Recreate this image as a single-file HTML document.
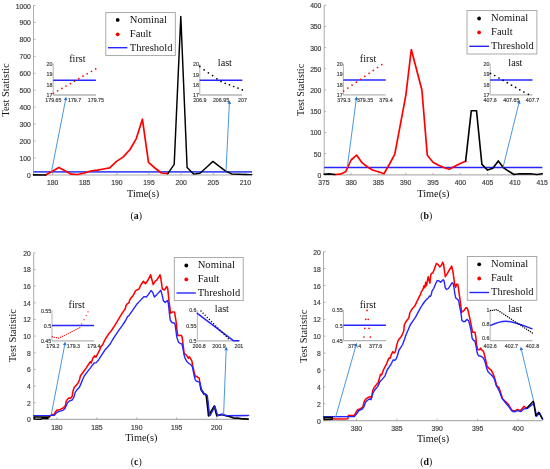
<!DOCTYPE html>
<html><head><meta charset="utf-8"><title>Test Statistic figure</title>
<style>html,body{margin:0;padding:0;background:#fff;width:550px;height:469px;overflow:hidden}svg{display:block}</style>
</head><body>
<svg width="550" height="469" viewBox="0 0 550 469">
<style>.sf{font-family:'Liberation Serif','Times New Roman',serif;}.ss{font-family:'Liberation Sans',Arial,sans-serif;stroke:#3a3a3a;stroke-width:0.16px}</style>
<rect width="550" height="469" fill="#fff"/>
<line x1="33.5" y1="5.5" x2="33.5" y2="175" stroke="#a2a2a2" stroke-width="0.9" />
<line x1="33.5" y1="175" x2="252" y2="175" stroke="#b0b0b0" stroke-width="1.2" />
<line x1="33.5" y1="175" x2="35.5" y2="175" stroke="#a2a2a2" stroke-width="0.8" />
<text class="ss" x="30.6" y="178" font-size="6.8" text-anchor="end" fill="#3c3c3c" letter-spacing="-0.1">0</text>
<line x1="33.5" y1="158.05" x2="35.5" y2="158.05" stroke="#a2a2a2" stroke-width="0.8" />
<text class="ss" x="30.6" y="161.05" font-size="6.8" text-anchor="end" fill="#3c3c3c" letter-spacing="-0.1">100</text>
<line x1="33.5" y1="141.1" x2="35.5" y2="141.1" stroke="#a2a2a2" stroke-width="0.8" />
<text class="ss" x="30.6" y="144.1" font-size="6.8" text-anchor="end" fill="#3c3c3c" letter-spacing="-0.1">200</text>
<line x1="33.5" y1="124.15" x2="35.5" y2="124.15" stroke="#a2a2a2" stroke-width="0.8" />
<text class="ss" x="30.6" y="127.15" font-size="6.8" text-anchor="end" fill="#3c3c3c" letter-spacing="-0.1">300</text>
<line x1="33.5" y1="107.2" x2="35.5" y2="107.2" stroke="#a2a2a2" stroke-width="0.8" />
<text class="ss" x="30.6" y="110.2" font-size="6.8" text-anchor="end" fill="#3c3c3c" letter-spacing="-0.1">400</text>
<line x1="33.5" y1="90.25" x2="35.5" y2="90.25" stroke="#a2a2a2" stroke-width="0.8" />
<text class="ss" x="30.6" y="93.25" font-size="6.8" text-anchor="end" fill="#3c3c3c" letter-spacing="-0.1">500</text>
<line x1="33.5" y1="73.3" x2="35.5" y2="73.3" stroke="#a2a2a2" stroke-width="0.8" />
<text class="ss" x="30.6" y="76.3" font-size="6.8" text-anchor="end" fill="#3c3c3c" letter-spacing="-0.1">600</text>
<line x1="33.5" y1="56.35" x2="35.5" y2="56.35" stroke="#a2a2a2" stroke-width="0.8" />
<text class="ss" x="30.6" y="59.35" font-size="6.8" text-anchor="end" fill="#3c3c3c" letter-spacing="-0.1">700</text>
<line x1="33.5" y1="39.4" x2="35.5" y2="39.4" stroke="#a2a2a2" stroke-width="0.8" />
<text class="ss" x="30.6" y="42.4" font-size="6.8" text-anchor="end" fill="#3c3c3c" letter-spacing="-0.1">800</text>
<line x1="33.5" y1="22.45" x2="35.5" y2="22.45" stroke="#a2a2a2" stroke-width="0.8" />
<text class="ss" x="30.6" y="25.45" font-size="6.8" text-anchor="end" fill="#3c3c3c" letter-spacing="-0.1">900</text>
<line x1="33.5" y1="5.5" x2="35.5" y2="5.5" stroke="#a2a2a2" stroke-width="0.8" />
<text class="ss" x="30.6" y="8.5" font-size="6.8" text-anchor="end" fill="#3c3c3c" letter-spacing="-0.1">1000</text>
<line x1="52.6" y1="175" x2="52.6" y2="173" stroke="#a2a2a2" stroke-width="0.8" />
<text class="ss" x="52.6" y="185.3" font-size="6.8" text-anchor="middle" fill="#3c3c3c" >180</text>
<line x1="84.73" y1="175" x2="84.73" y2="173" stroke="#a2a2a2" stroke-width="0.8" />
<text class="ss" x="84.73" y="185.3" font-size="6.8" text-anchor="middle" fill="#3c3c3c" >185</text>
<line x1="116.87" y1="175" x2="116.87" y2="173" stroke="#a2a2a2" stroke-width="0.8" />
<text class="ss" x="116.87" y="185.3" font-size="6.8" text-anchor="middle" fill="#3c3c3c" >190</text>
<line x1="149" y1="175" x2="149" y2="173" stroke="#a2a2a2" stroke-width="0.8" />
<text class="ss" x="149" y="185.3" font-size="6.8" text-anchor="middle" fill="#3c3c3c" >195</text>
<line x1="181.14" y1="175" x2="181.14" y2="173" stroke="#a2a2a2" stroke-width="0.8" />
<text class="ss" x="181.14" y="185.3" font-size="6.8" text-anchor="middle" fill="#3c3c3c" >200</text>
<line x1="213.27" y1="175" x2="213.27" y2="173" stroke="#a2a2a2" stroke-width="0.8" />
<text class="ss" x="213.27" y="185.3" font-size="6.8" text-anchor="middle" fill="#3c3c3c" >205</text>
<line x1="245.41" y1="175" x2="245.41" y2="173" stroke="#a2a2a2" stroke-width="0.8" />
<text class="ss" x="245.41" y="185.3" font-size="6.8" text-anchor="middle" fill="#3c3c3c" >210</text>
<line x1="33.5" y1="171.9" x2="252" y2="171.9" stroke="#4650f4" stroke-width="1.8" />
<polyline points="45.6,175 52,171.5 58.8,167.5 65,170.8 71.2,174.2 77.7,174.5 84.2,173 90.6,171 97.3,170.2 103.5,169 109.8,167.8 116.5,161.4 123.3,156.9 130,149.5 136.3,138.6 142.4,119.2 148.5,162.3 154.9,168 161.4,173 167.8,173.6" fill="none" stroke="#ff0000" stroke-width="1.7" stroke-linejoin="round" stroke-linecap="round" />
<polyline points="33.5,174.9 45.6,175" fill="none" stroke="#000" stroke-width="1.6" stroke-linejoin="round" stroke-linecap="round" />
<polyline points="167.8,173.6 174.2,164.4 180.8,16.4 187.1,167.5 193.6,174.1 200,173.3 206.4,167.5 212.9,161.4 219.3,166.3 225.7,171.2 232.1,174.1 238.5,174.3 244.9,174.5 251.8,174.6" fill="none" stroke="#000" stroke-width="1.45" stroke-linejoin="round" stroke-linecap="round" />
<rect x="105.8" y="12.6" width="69.5" height="43" fill="#fff" stroke="#a0a0a0" stroke-width="0.9"/>
<circle cx="117.7" cy="19.9" r="1.9" fill="#000"/>
<circle cx="117.7" cy="34.3" r="1.9" fill="#ff0000"/>
<line x1="108" y1="47.7" x2="127.3" y2="47.7" stroke="#2626ff" stroke-width="1.4" />
<text class="sf" x="129.8" y="22.5" font-size="10.5" fill="#111" textLength="37.2" lengthAdjust="spacingAndGlyphs">Nominal</text>
<text class="sf" x="129.8" y="36.6" font-size="10.5" fill="#111" textLength="21.6" lengthAdjust="spacingAndGlyphs">Fault</text>
<text class="sf" x="129.8" y="50.8" font-size="10.5" fill="#111" textLength="42.6" lengthAdjust="spacingAndGlyphs">Threshold</text>
<line x1="53.2" y1="63.6" x2="53.2" y2="95" stroke="#aaa" stroke-width="0.9" />
<line x1="53.2" y1="95" x2="95.9" y2="95" stroke="#b4b4b4" stroke-width="1.3" />
<text class="ss" x="52.4" y="65.6" font-size="5.3" text-anchor="end" fill="#444" >20</text>
<text class="ss" x="52.4" y="76.1" font-size="5.3" text-anchor="end" fill="#444" >19</text>
<text class="ss" x="52.4" y="86.6" font-size="5.3" text-anchor="end" fill="#444" >18</text>
<text class="ss" x="52.4" y="97" font-size="5.3" text-anchor="end" fill="#444" >17</text>
<text class="ss" x="53.4" y="102" font-size="5.3" text-anchor="middle" fill="#444" >179.65</text>
<text class="ss" x="74.6" y="102" font-size="5.3" text-anchor="middle" fill="#444" >179.7</text>
<text class="ss" x="95.9" y="102" font-size="5.3" text-anchor="middle" fill="#444" >179.75</text>
<text class="sf" x="69.2" y="61.8" font-size="10.2" fill="#111" >first</text>
<line x1="53.2" y1="80.2" x2="95.9" y2="80.2" stroke="#2626ff" stroke-width="1.5" />
<circle cx="53.4" cy="93.3" r="0.85" fill="#ff0000"/>
<circle cx="57.63" cy="90.86" r="0.85" fill="#ff0000"/>
<circle cx="61.86" cy="88.42" r="0.85" fill="#ff0000"/>
<circle cx="66.09" cy="85.98" r="0.85" fill="#ff0000"/>
<circle cx="70.32" cy="83.54" r="0.85" fill="#ff0000"/>
<circle cx="74.55" cy="81.1" r="0.85" fill="#ff0000"/>
<circle cx="78.78" cy="78.66" r="0.85" fill="#ff0000"/>
<circle cx="83.01" cy="76.22" r="0.85" fill="#ff0000"/>
<circle cx="87.24" cy="73.78" r="0.85" fill="#ff0000"/>
<circle cx="91.47" cy="71.34" r="0.85" fill="#ff0000"/>
<circle cx="95.7" cy="68.9" r="0.85" fill="#ff0000"/>
<circle cx="74.6" cy="81" r="0.7" fill="#222"/>
<line x1="199.8" y1="64.2" x2="199.8" y2="95" stroke="#aaa" stroke-width="0.9" />
<line x1="199.8" y1="95" x2="242.3" y2="95" stroke="#b4b4b4" stroke-width="1.3" />
<text class="ss" x="199" y="66.2" font-size="5.3" text-anchor="end" fill="#444" >20</text>
<text class="ss" x="199" y="76.5" font-size="5.3" text-anchor="end" fill="#444" >19</text>
<text class="ss" x="199" y="86.7" font-size="5.3" text-anchor="end" fill="#444" >18</text>
<text class="ss" x="199" y="97" font-size="5.3" text-anchor="end" fill="#444" >17</text>
<text class="ss" x="199.8" y="102" font-size="5.3" text-anchor="middle" fill="#444" >206.9</text>
<text class="ss" x="221" y="102" font-size="5.3" text-anchor="middle" fill="#444" >206.95</text>
<text class="ss" x="242.5" y="102" font-size="5.3" text-anchor="middle" fill="#444" >207</text>
<text class="sf" x="217.8" y="66" font-size="10.2" fill="#111" >last</text>
<line x1="199.8" y1="80.2" x2="242.3" y2="80.2" stroke="#2626ff" stroke-width="1.5" />
<circle cx="199.8" cy="66.4" r="0.85" fill="#000"/>
<circle cx="204.1" cy="69.8" r="0.85" fill="#000"/>
<circle cx="208.4" cy="72.8" r="0.85" fill="#000"/>
<circle cx="212.6" cy="75.6" r="0.85" fill="#000"/>
<circle cx="216.9" cy="78.8" r="0.85" fill="#000"/>
<circle cx="221" cy="81.4" r="0.85" fill="#000"/>
<circle cx="225.2" cy="83.3" r="0.85" fill="#000"/>
<circle cx="229.5" cy="84.8" r="0.85" fill="#000"/>
<circle cx="233.7" cy="86.5" r="0.85" fill="#000"/>
<circle cx="238" cy="88.1" r="0.85" fill="#000"/>
<circle cx="242.3" cy="89.9" r="0.85" fill="#000"/>
<line x1="51.5" y1="171.5" x2="65.54" y2="100.04" stroke="#4a98e0" stroke-width="1.0" />
<polygon points="66.2,96.7 67.31,100.38 63.78,99.69" fill="#1f72d8"/>
<line x1="226" y1="171.5" x2="229.33" y2="103.9" stroke="#4a98e0" stroke-width="1.0" />
<polygon points="229.5,100.5 231.13,103.98 227.53,103.81" fill="#1f72d8"/>
<text class="sf" x="9.2" y="90.1" font-size="10.4" text-anchor="middle" fill="#111" transform="rotate(-90 9.2 90.1)">Test Statistic</text>
<text class="sf" x="143.1" y="196.8" font-size="10.3" text-anchor="middle" fill="#111" >Time(s)</text>
<text x="136.2" y="219.2" class="sf" font-size="9.8" text-anchor="middle" fill="#111">(<tspan font-weight="bold">a</tspan>)</text>
<line x1="324.2" y1="5.2" x2="324.2" y2="174.8" stroke="#a2a2a2" stroke-width="0.9" />
<line x1="324.2" y1="174.8" x2="542.3" y2="174.8" stroke="#b0b0b0" stroke-width="1.2" />
<line x1="324.2" y1="174.8" x2="326.2" y2="174.8" stroke="#a2a2a2" stroke-width="0.8" />
<text class="ss" x="321.2" y="177.8" font-size="6.8" text-anchor="end" fill="#3c3c3c" letter-spacing="-0.1">0</text>
<line x1="324.2" y1="153.6" x2="326.2" y2="153.6" stroke="#a2a2a2" stroke-width="0.8" />
<text class="ss" x="321.2" y="156.6" font-size="6.8" text-anchor="end" fill="#3c3c3c" letter-spacing="-0.1">50</text>
<line x1="324.2" y1="132.4" x2="326.2" y2="132.4" stroke="#a2a2a2" stroke-width="0.8" />
<text class="ss" x="321.2" y="135.4" font-size="6.8" text-anchor="end" fill="#3c3c3c" letter-spacing="-0.1">100</text>
<line x1="324.2" y1="111.2" x2="326.2" y2="111.2" stroke="#a2a2a2" stroke-width="0.8" />
<text class="ss" x="321.2" y="114.2" font-size="6.8" text-anchor="end" fill="#3c3c3c" letter-spacing="-0.1">150</text>
<line x1="324.2" y1="90" x2="326.2" y2="90" stroke="#a2a2a2" stroke-width="0.8" />
<text class="ss" x="321.2" y="93" font-size="6.8" text-anchor="end" fill="#3c3c3c" letter-spacing="-0.1">200</text>
<line x1="324.2" y1="68.8" x2="326.2" y2="68.8" stroke="#a2a2a2" stroke-width="0.8" />
<text class="ss" x="321.2" y="71.8" font-size="6.8" text-anchor="end" fill="#3c3c3c" letter-spacing="-0.1">250</text>
<line x1="324.2" y1="47.6" x2="326.2" y2="47.6" stroke="#a2a2a2" stroke-width="0.8" />
<text class="ss" x="321.2" y="50.6" font-size="6.8" text-anchor="end" fill="#3c3c3c" letter-spacing="-0.1">300</text>
<line x1="324.2" y1="26.4" x2="326.2" y2="26.4" stroke="#a2a2a2" stroke-width="0.8" />
<text class="ss" x="321.2" y="29.4" font-size="6.8" text-anchor="end" fill="#3c3c3c" letter-spacing="-0.1">350</text>
<line x1="324.2" y1="5.2" x2="326.2" y2="5.2" stroke="#a2a2a2" stroke-width="0.8" />
<text class="ss" x="321.2" y="8.2" font-size="6.8" text-anchor="end" fill="#3c3c3c" letter-spacing="-0.1">400</text>
<line x1="323.8" y1="174.8" x2="323.8" y2="172.8" stroke="#a2a2a2" stroke-width="0.8" />
<text class="ss" x="323.8" y="185.1" font-size="6.8" text-anchor="middle" fill="#3c3c3c" >375</text>
<line x1="351.1" y1="174.8" x2="351.1" y2="172.8" stroke="#a2a2a2" stroke-width="0.8" />
<text class="ss" x="351.1" y="185.1" font-size="6.8" text-anchor="middle" fill="#3c3c3c" >380</text>
<line x1="378.4" y1="174.8" x2="378.4" y2="172.8" stroke="#a2a2a2" stroke-width="0.8" />
<text class="ss" x="378.4" y="185.1" font-size="6.8" text-anchor="middle" fill="#3c3c3c" >385</text>
<line x1="405.7" y1="174.8" x2="405.7" y2="172.8" stroke="#a2a2a2" stroke-width="0.8" />
<text class="ss" x="405.7" y="185.1" font-size="6.8" text-anchor="middle" fill="#3c3c3c" >390</text>
<line x1="433" y1="174.8" x2="433" y2="172.8" stroke="#a2a2a2" stroke-width="0.8" />
<text class="ss" x="433" y="185.1" font-size="6.8" text-anchor="middle" fill="#3c3c3c" >395</text>
<line x1="460.3" y1="174.8" x2="460.3" y2="172.8" stroke="#a2a2a2" stroke-width="0.8" />
<text class="ss" x="460.3" y="185.1" font-size="6.8" text-anchor="middle" fill="#3c3c3c" >400</text>
<line x1="487.6" y1="174.8" x2="487.6" y2="172.8" stroke="#a2a2a2" stroke-width="0.8" />
<text class="ss" x="487.6" y="185.1" font-size="6.8" text-anchor="middle" fill="#3c3c3c" >405</text>
<line x1="514.9" y1="174.8" x2="514.9" y2="172.8" stroke="#a2a2a2" stroke-width="0.8" />
<text class="ss" x="514.9" y="185.1" font-size="6.8" text-anchor="middle" fill="#3c3c3c" >410</text>
<line x1="542.2" y1="174.8" x2="542.2" y2="172.8" stroke="#a2a2a2" stroke-width="0.8" />
<text class="ss" x="542.2" y="185.1" font-size="6.8" text-anchor="middle" fill="#3c3c3c" >415</text>
<line x1="324.2" y1="167.4" x2="542.3" y2="167.4" stroke="#2626ff" stroke-width="1.5" />
<polyline points="334.7,174.5 340.2,174.2 345.6,171.8 351.1,160 356.6,155.1 362,162.7 367.5,167 373,170.3 378.4,171.8 383.9,173.8 389.3,164.5 394.8,154.2 400.3,124.8 405.8,95.6 411.3,49.5 416.6,69.8 421.9,90 427.3,155.3 433,162.2 438.5,165.3 443.9,167.5 449.2,169.2 454.9,166.3 460.3,163.5 465.6,161.3" fill="none" stroke="#ff0000" stroke-width="1.7" stroke-linejoin="round" stroke-linecap="round" />
<polyline points="324.2,174.3 329,173.9 334.7,174.5" fill="none" stroke="#000" stroke-width="1.6" stroke-linejoin="round" stroke-linecap="round" />
<polyline points="465.6,161.3 471.3,110.7 476.5,110.7 481.9,164.4 487.6,170.1 492.8,168.2 498.3,160.9 503.3,167.6 507,170.1 514,174.5 519.5,173.8 525.5,173.9 530.4,173.8 536.9,174.5 542.3,173.8" fill="none" stroke="#000" stroke-width="1.6" stroke-linejoin="round" stroke-linecap="round" />
<rect x="467" y="10.6" width="69.9" height="43.4" fill="#fff" stroke="#a0a0a0" stroke-width="0.9"/>
<circle cx="479.1" cy="18.5" r="1.9" fill="#000"/>
<circle cx="479.1" cy="32.4" r="1.9" fill="#ff0000"/>
<line x1="469.3" y1="46.3" x2="489.1" y2="46.3" stroke="#2626ff" stroke-width="1.4" />
<text class="sf" x="491.1" y="21" font-size="10.5" fill="#111" textLength="37.2" lengthAdjust="spacingAndGlyphs">Nominal</text>
<text class="sf" x="491.1" y="34.9" font-size="10.5" fill="#111" textLength="21.6" lengthAdjust="spacingAndGlyphs">Fault</text>
<text class="sf" x="491.1" y="49" font-size="10.5" fill="#111" textLength="42.6" lengthAdjust="spacingAndGlyphs">Threshold</text>
<line x1="343.4" y1="63.7" x2="343.4" y2="94.9" stroke="#aaa" stroke-width="0.9" />
<line x1="343.4" y1="94.9" x2="385.7" y2="94.9" stroke="#b4b4b4" stroke-width="1.3" />
<text class="ss" x="342.6" y="65.7" font-size="5.3" text-anchor="end" fill="#444" >20</text>
<text class="ss" x="342.6" y="76.1" font-size="5.3" text-anchor="end" fill="#444" >19</text>
<text class="ss" x="342.6" y="86.5" font-size="5.3" text-anchor="end" fill="#444" >18</text>
<text class="ss" x="342.6" y="96.9" font-size="5.3" text-anchor="end" fill="#444" >17</text>
<text class="ss" x="343.9" y="101.9" font-size="5.3" text-anchor="middle" fill="#444" >379.3</text>
<text class="ss" x="365" y="101.9" font-size="5.3" text-anchor="middle" fill="#444" >379.35</text>
<text class="ss" x="386" y="101.9" font-size="5.3" text-anchor="middle" fill="#444" >379.4</text>
<text class="sf" x="359.8" y="61.6" font-size="10.2" fill="#111" >first</text>
<line x1="343.4" y1="80.1" x2="385.7" y2="80.1" stroke="#2626ff" stroke-width="1.5" />
<circle cx="343.6" cy="91" r="0.85" fill="#ff0000"/>
<circle cx="347.84" cy="88.06" r="0.85" fill="#ff0000"/>
<circle cx="352.08" cy="85.12" r="0.85" fill="#ff0000"/>
<circle cx="356.32" cy="82.18" r="0.85" fill="#ff0000"/>
<circle cx="360.56" cy="79.24" r="0.85" fill="#ff0000"/>
<circle cx="364.8" cy="76.3" r="0.85" fill="#ff0000"/>
<circle cx="369.04" cy="73.36" r="0.85" fill="#ff0000"/>
<circle cx="373.28" cy="70.42" r="0.85" fill="#ff0000"/>
<circle cx="377.52" cy="67.48" r="0.85" fill="#ff0000"/>
<circle cx="381.76" cy="64.54" r="0.85" fill="#ff0000"/>
<line x1="490.2" y1="63.7" x2="490.2" y2="94.9" stroke="#aaa" stroke-width="0.9" />
<line x1="490.2" y1="94.9" x2="532.5" y2="94.9" stroke="#b4b4b4" stroke-width="1.3" />
<text class="ss" x="489.4" y="65.7" font-size="5.3" text-anchor="end" fill="#444" >20</text>
<text class="ss" x="489.4" y="76.1" font-size="5.3" text-anchor="end" fill="#444" >19</text>
<text class="ss" x="489.4" y="86.5" font-size="5.3" text-anchor="end" fill="#444" >18</text>
<text class="ss" x="489.4" y="96.9" font-size="5.3" text-anchor="end" fill="#444" >17</text>
<text class="ss" x="490.2" y="101.9" font-size="5.3" text-anchor="middle" fill="#444" >407.6</text>
<text class="ss" x="511.3" y="101.9" font-size="5.3" text-anchor="middle" fill="#444" >407.65</text>
<text class="ss" x="532.5" y="101.9" font-size="5.3" text-anchor="middle" fill="#444" >407.7</text>
<text class="sf" x="508.3" y="65.8" font-size="10.2" fill="#111" >last</text>
<line x1="490.2" y1="80.1" x2="532.5" y2="80.1" stroke="#2626ff" stroke-width="1.5" />
<circle cx="490.5" cy="73.4" r="0.85" fill="#000"/>
<circle cx="494.7" cy="75.5" r="0.85" fill="#000"/>
<circle cx="499" cy="78" r="0.85" fill="#000"/>
<circle cx="503.1" cy="80.3" r="0.85" fill="#000"/>
<circle cx="507.3" cy="82.7" r="0.85" fill="#000"/>
<circle cx="511.5" cy="85.2" r="0.85" fill="#000"/>
<circle cx="515.6" cy="87.4" r="0.85" fill="#000"/>
<circle cx="519.8" cy="89.8" r="0.85" fill="#000"/>
<circle cx="523.9" cy="92.1" r="0.85" fill="#000"/>
<circle cx="528.4" cy="94.3" r="0.85" fill="#000"/>
<line x1="347.3" y1="167.3" x2="356.16" y2="99.97" stroke="#4a98e0" stroke-width="1.0" />
<polygon points="356.6,96.6 357.94,100.21 354.37,99.74" fill="#1f72d8"/>
<line x1="503" y1="167.6" x2="518.79" y2="103.6" stroke="#4a98e0" stroke-width="1.0" />
<polygon points="519.6,100.3 520.53,104.03 517.04,103.17" fill="#1f72d8"/>
<text class="sf" x="303.9" y="89.9" font-size="10.2" text-anchor="middle" fill="#111" transform="rotate(-90 303.9 89.9)">Test Statistic</text>
<text class="sf" x="433.4" y="196.9" font-size="10.3" text-anchor="middle" fill="#111" >Time(s)</text>
<text x="426.3" y="219.2" class="sf" font-size="9.8" text-anchor="middle" fill="#111">(<tspan font-weight="bold">b</tspan>)</text>
<line x1="33.7" y1="252.8" x2="33.7" y2="419.4" stroke="#a2a2a2" stroke-width="0.9" />
<line x1="33.7" y1="419.4" x2="248.5" y2="419.4" stroke="#b0b0b0" stroke-width="1.2" />
<line x1="33.7" y1="419.4" x2="35.7" y2="419.4" stroke="#a2a2a2" stroke-width="0.8" />
<text class="ss" x="30.6" y="422.4" font-size="6.8" text-anchor="end" fill="#3c3c3c" letter-spacing="-0.1">0</text>
<line x1="33.7" y1="402.74" x2="35.7" y2="402.74" stroke="#a2a2a2" stroke-width="0.8" />
<text class="ss" x="30.6" y="405.74" font-size="6.8" text-anchor="end" fill="#3c3c3c" letter-spacing="-0.1">2</text>
<line x1="33.7" y1="386.08" x2="35.7" y2="386.08" stroke="#a2a2a2" stroke-width="0.8" />
<text class="ss" x="30.6" y="389.08" font-size="6.8" text-anchor="end" fill="#3c3c3c" letter-spacing="-0.1">4</text>
<line x1="33.7" y1="369.42" x2="35.7" y2="369.42" stroke="#a2a2a2" stroke-width="0.8" />
<text class="ss" x="30.6" y="372.42" font-size="6.8" text-anchor="end" fill="#3c3c3c" letter-spacing="-0.1">6</text>
<line x1="33.7" y1="352.76" x2="35.7" y2="352.76" stroke="#a2a2a2" stroke-width="0.8" />
<text class="ss" x="30.6" y="355.76" font-size="6.8" text-anchor="end" fill="#3c3c3c" letter-spacing="-0.1">8</text>
<line x1="33.7" y1="336.1" x2="35.7" y2="336.1" stroke="#a2a2a2" stroke-width="0.8" />
<text class="ss" x="30.6" y="339.1" font-size="6.8" text-anchor="end" fill="#3c3c3c" letter-spacing="-0.1">10</text>
<line x1="33.7" y1="319.44" x2="35.7" y2="319.44" stroke="#a2a2a2" stroke-width="0.8" />
<text class="ss" x="30.6" y="322.44" font-size="6.8" text-anchor="end" fill="#3c3c3c" letter-spacing="-0.1">12</text>
<line x1="33.7" y1="302.78" x2="35.7" y2="302.78" stroke="#a2a2a2" stroke-width="0.8" />
<text class="ss" x="30.6" y="305.78" font-size="6.8" text-anchor="end" fill="#3c3c3c" letter-spacing="-0.1">14</text>
<line x1="33.7" y1="286.12" x2="35.7" y2="286.12" stroke="#a2a2a2" stroke-width="0.8" />
<text class="ss" x="30.6" y="289.12" font-size="6.8" text-anchor="end" fill="#3c3c3c" letter-spacing="-0.1">16</text>
<line x1="33.7" y1="269.46" x2="35.7" y2="269.46" stroke="#a2a2a2" stroke-width="0.8" />
<text class="ss" x="30.6" y="272.46" font-size="6.8" text-anchor="end" fill="#3c3c3c" letter-spacing="-0.1">18</text>
<line x1="33.7" y1="252.8" x2="35.7" y2="252.8" stroke="#a2a2a2" stroke-width="0.8" />
<text class="ss" x="30.6" y="255.8" font-size="6.8" text-anchor="end" fill="#3c3c3c" letter-spacing="-0.1">20</text>
<line x1="56.85" y1="419.4" x2="56.85" y2="417.4" stroke="#a2a2a2" stroke-width="0.8" />
<text class="ss" x="56.85" y="429.7" font-size="6.8" text-anchor="middle" fill="#3c3c3c" >180</text>
<line x1="96.8" y1="419.4" x2="96.8" y2="417.4" stroke="#a2a2a2" stroke-width="0.8" />
<text class="ss" x="96.8" y="429.7" font-size="6.8" text-anchor="middle" fill="#3c3c3c" >185</text>
<line x1="136.75" y1="419.4" x2="136.75" y2="417.4" stroke="#a2a2a2" stroke-width="0.8" />
<text class="ss" x="136.75" y="429.7" font-size="6.8" text-anchor="middle" fill="#3c3c3c" >190</text>
<line x1="176.7" y1="419.4" x2="176.7" y2="417.4" stroke="#a2a2a2" stroke-width="0.8" />
<text class="ss" x="176.7" y="429.7" font-size="6.8" text-anchor="middle" fill="#3c3c3c" >195</text>
<line x1="216.65" y1="419.4" x2="216.65" y2="417.4" stroke="#a2a2a2" stroke-width="0.8" />
<text class="ss" x="216.65" y="429.7" font-size="6.8" text-anchor="middle" fill="#3c3c3c" >200</text>
<polyline points="49.1,416.4 50,416.2 52.1,414.5 53.8,415 55.5,412 56.8,410.3 60.2,409.4 63.6,407.7 65.4,405.6 66.2,401.3 67.5,399.2 69.2,397.9 70.5,398.3 72.2,396.2 73,391.1 74.3,387.2 76.4,385.1 78.1,383 79.4,380 80.5,375.8 82.7,372.8 86.1,368.1 89.1,363.5 90.4,361.7 91.2,363 92.9,358.3 94.6,355.8 95.9,357.1 98,353.2 99.7,349.8 101,346.4 102.7,344.7 104.4,340.9 106,338 108.5,334.1 111.1,331.1 113.6,327.3 117.1,321.7 120.5,315.8 123,311.9 125.2,309 126,305.5 127.3,303.8 129,302.6 129.7,300 131.4,297.4 133.1,295.7 135.7,290.6 137.4,289.7 138.7,289.3 140.8,285 143.4,281.2 145.5,283.8 147.6,280.8 150.6,274.8 153.2,284.6 155.3,281.2 157,279.9 160,274.8 160.8,278.2 162.3,289 164.5,290 166.8,286.5 167.7,288.4 169,301.2 169.8,307.2 170.7,313.1 172.8,311.9 174.5,311.9 175.4,317.4 176.6,325 176.8,328.5 177.7,335.4 181.1,335.4 181.9,336.2 182.8,342.2 184.1,353.3 186.2,354.8 188.5,358.4 189.4,356.7 190.7,358.8 191.9,361 192.8,366.1 194.1,372.1 195.4,376.7 197.1,376.3 197.9,377.6 199.2,378 199.6,381.4 200.9,388.3" fill="none" stroke="#ff0000" stroke-width="1.55" stroke-linejoin="round" stroke-linecap="round" />
<polyline points="33.7,415.7 50,415.4 52.6,415.1 54.3,415.4 56.4,412.8 58.5,411.6 62.8,410.3 64.9,408.6 66.6,404.7 67.9,402.2 69.6,400.9 72.2,400 73.9,397.1 75.2,392.4 77.3,389.4 79.4,387.2 81.1,383.4 82.4,380 84.4,375.8 86.9,372.4 89.9,368.6 92.1,365.6 94.2,363 96.3,362.6 98.5,360 100.6,356.6 103.1,352.8 105.3,349.4 107.4,347.2 110,344.3 112.4,340 115.4,335.4 118.8,330.3 122.2,325.6 125.6,320.5 127.3,317.1 129.4,314.9 132.4,310.7 135,306.8 136.7,304.3 138.4,302.6 141.6,299.1 144.2,296.6 146.3,297 148.5,294.4 151,290.6 152.7,292.3 154.4,297 157,294.4 160.8,290.2 162.1,294.9 163.4,300.8 165.1,302.5 167.7,300.4 168.5,304.6 169.4,313.1 170.2,320 171.9,322.5 174.1,323 175.1,324.3 176.8,337.1 178.5,342.2 180.2,343.5 181.9,343.9 183.2,349.9 184.1,355 185.1,358.4 186.8,361.4 189,363.5 191.1,364.8 192.4,366.9 193.6,372.9 194.9,378.9 196.2,381 198.3,381.9 199.6,382.3 200.5,387.4 201.2,390.5 202.7,391.8 204,394.4 205.2,394 206.9,395.7 208.2,406.3 209.1,415.7 209.9,415.3 214.6,406.3 217.2,415.7 218.5,415.3 220.6,414.4 222.3,414.4 224.4,415.3 226.6,415.7 248.2,415.5" fill="none" stroke="#2626ff" stroke-width="1.4" stroke-linejoin="round" stroke-linecap="round" />
<polyline points="49.5,416.9 34.2,416.9 34.2,419.1 41,419.2 42,418.5 48,418.6" fill="none" stroke="#000" stroke-width="1.5" stroke-linejoin="round" stroke-linecap="round" />
<polyline points="200.9,388.3 202.4,391.7 204.1,393.8 206.2,395.4 207.5,406.3 208.5,415.9 214.3,406 216.8,415.8 218.5,415.3 222.3,414.6 224.4,415.3 227.4,415.9 230.8,417 234.2,418.3 237.3,418 240.9,418.6 248.2,419.1" fill="none" stroke="#000" stroke-width="1.6" stroke-linejoin="round" stroke-linecap="round" />
<polyline points="200.05,382.3 200.95,387.4 201.65,390.5 203.15,391.8 204.45,394.4 205.65,394 207.35,395.7 208.65,406.3 209.55,415.7 210.35,415.3 215.05,406.3 217.65,415.7 218.95,415.3 221.05,414.4 222.75,414.4 224.85,415.3 227.05,415.7 248.65,415.5" fill="none" stroke="#2626ff" stroke-width="1.25" stroke-linejoin="round" stroke-linecap="round" />
<rect x="174.3" y="257.6" width="68.9" height="43" fill="#fff" stroke="#a0a0a0" stroke-width="0.9"/>
<circle cx="186.3" cy="265.5" r="1.9" fill="#000"/>
<circle cx="186.3" cy="279.4" r="1.9" fill="#ff0000"/>
<line x1="176.5" y1="293" x2="195.8" y2="293" stroke="#2626ff" stroke-width="1.4" />
<text class="sf" x="197.7" y="267.9" font-size="10.5" fill="#111" textLength="37.2" lengthAdjust="spacingAndGlyphs">Nominal</text>
<text class="sf" x="197.7" y="281.8" font-size="10.5" fill="#111" textLength="21.6" lengthAdjust="spacingAndGlyphs">Fault</text>
<text class="sf" x="197.7" y="295.7" font-size="10.5" fill="#111" textLength="42.6" lengthAdjust="spacingAndGlyphs">Threshold</text>
<line x1="52" y1="310.1" x2="52" y2="340.9" stroke="#aaa" stroke-width="0.9" />
<line x1="52" y1="340.9" x2="94.1" y2="340.9" stroke="#b4b4b4" stroke-width="1.3" />
<text class="ss" x="51.2" y="312.5" font-size="5.3" text-anchor="end" fill="#444" >0.55</text>
<text class="ss" x="51.2" y="327.6" font-size="5.3" text-anchor="end" fill="#444" >0.5</text>
<text class="ss" x="51.2" y="342.9" font-size="5.3" text-anchor="end" fill="#444" >0.45</text>
<text class="ss" x="52.9" y="347.9" font-size="5.3" text-anchor="middle" fill="#444" >179.2</text>
<text class="ss" x="73.4" y="347.9" font-size="5.3" text-anchor="middle" fill="#444" >179.3</text>
<text class="ss" x="93.9" y="347.9" font-size="5.3" text-anchor="middle" fill="#444" >179.4</text>
<text class="sf" x="68.5" y="307.9" font-size="10.2" fill="#111" >first</text>
<line x1="52" y1="325.4" x2="94.1" y2="325.4" stroke="#2626ff" stroke-width="1.5" />
<circle cx="52.3" cy="336.7" r="0.65" fill="#ff0000"/>
<circle cx="54.2" cy="337.4" r="0.65" fill="#ff0000"/>
<circle cx="56.5" cy="337.7" r="0.65" fill="#ff0000"/>
<circle cx="58.7" cy="338.2" r="0.65" fill="#ff0000"/>
<circle cx="60.62" cy="337.23" r="0.65" fill="#ff0000"/>
<circle cx="62.54" cy="336.26" r="0.65" fill="#ff0000"/>
<circle cx="64.46" cy="335.29" r="0.65" fill="#ff0000"/>
<circle cx="66.38" cy="334.32" r="0.65" fill="#ff0000"/>
<circle cx="68.3" cy="333.35" r="0.65" fill="#ff0000"/>
<circle cx="70.22" cy="332.38" r="0.65" fill="#ff0000"/>
<circle cx="72.14" cy="331.41" r="0.65" fill="#ff0000"/>
<circle cx="74.06" cy="330.44" r="0.65" fill="#ff0000"/>
<circle cx="75.98" cy="329.47" r="0.65" fill="#ff0000"/>
<circle cx="77.9" cy="328.5" r="0.65" fill="#ff0000"/>
<circle cx="79.82" cy="327.53" r="0.65" fill="#ff0000"/>
<circle cx="81.7" cy="323.9" r="0.65" fill="#ff0000"/>
<circle cx="84" cy="319.7" r="0.65" fill="#ff0000"/>
<circle cx="86.2" cy="315.6" r="0.65" fill="#ff0000"/>
<circle cx="88.1" cy="311.8" r="0.65" fill="#ff0000"/>
<line x1="197.3" y1="310.4" x2="197.3" y2="340.8" stroke="#aaa" stroke-width="0.9" />
<line x1="197.3" y1="340.8" x2="238.9" y2="340.8" stroke="#b4b4b4" stroke-width="1.3" />
<text class="ss" x="196.5" y="312.4" font-size="5.3" text-anchor="end" fill="#444" >0.6</text>
<text class="ss" x="196.5" y="327.8" font-size="5.3" text-anchor="end" fill="#444" >0.55</text>
<text class="ss" x="196.5" y="342.8" font-size="5.3" text-anchor="end" fill="#444" >0.5</text>
<text class="ss" x="199.2" y="347.8" font-size="5.3" text-anchor="middle" fill="#444" >200.8</text>
<text class="ss" x="219" y="347.8" font-size="5.3" text-anchor="middle" fill="#444" >200.9</text>
<text class="ss" x="238.9" y="347.8" font-size="5.3" text-anchor="middle" fill="#444" >201</text>
<text class="sf" x="214.8" y="312.3" font-size="10.2" fill="#111" >last</text>
<polyline points="197.3,313.3 233.7,340.8 238.9,340.8" fill="none" stroke="#2626ff" stroke-width="1.5" stroke-linejoin="round" stroke-linecap="round" />
<circle cx="201" cy="311" r="0.72" fill="#000"/>
<circle cx="203.1" cy="313.13" r="0.72" fill="#000"/>
<circle cx="205.2" cy="315.26" r="0.72" fill="#000"/>
<circle cx="207.3" cy="317.39" r="0.72" fill="#000"/>
<circle cx="209.4" cy="319.52" r="0.72" fill="#000"/>
<circle cx="211.5" cy="321.65" r="0.72" fill="#000"/>
<circle cx="213.6" cy="323.78" r="0.72" fill="#000"/>
<circle cx="215.7" cy="325.92" r="0.72" fill="#000"/>
<circle cx="217.8" cy="328.05" r="0.72" fill="#000"/>
<circle cx="219.9" cy="330.18" r="0.72" fill="#000"/>
<circle cx="222" cy="332.31" r="0.72" fill="#000"/>
<circle cx="224.1" cy="334.44" r="0.72" fill="#000"/>
<circle cx="226.2" cy="336.57" r="0.72" fill="#000"/>
<circle cx="228.3" cy="338.7" r="0.72" fill="#000"/>
<line x1="51.4" y1="414.1" x2="64.66" y2="345.14" stroke="#4a98e0" stroke-width="1.0" />
<polygon points="65.3,341.8 66.43,345.48 62.89,344.8" fill="#1f72d8"/>
<line x1="223.6" y1="414.5" x2="226.16" y2="350.2" stroke="#4a98e0" stroke-width="1.0" />
<polygon points="226.3,346.8 227.96,350.27 224.37,350.13" fill="#1f72d8"/>
<text class="sf" x="16.5" y="335.7" font-size="10.4" text-anchor="middle" fill="#111" transform="rotate(-90 16.5 335.7)">Test Statistic</text>
<text class="sf" x="141.3" y="441.1" font-size="10.3" text-anchor="middle" fill="#111" >Time(s)</text>
<text x="136.2" y="464.5" class="sf" font-size="9.8" text-anchor="middle" fill="#111">(<tspan font-weight="bold">c</tspan>)</text>
<line x1="323.5" y1="251.7" x2="323.5" y2="420.7" stroke="#a2a2a2" stroke-width="0.9" />
<line x1="323.5" y1="420.7" x2="542.5" y2="420.7" stroke="#b0b0b0" stroke-width="1.2" />
<line x1="323.5" y1="420.7" x2="325.5" y2="420.7" stroke="#a2a2a2" stroke-width="0.8" />
<text class="ss" x="320.6" y="423.7" font-size="6.8" text-anchor="end" fill="#3c3c3c" letter-spacing="-0.1">0</text>
<line x1="323.5" y1="403.8" x2="325.5" y2="403.8" stroke="#a2a2a2" stroke-width="0.8" />
<text class="ss" x="320.6" y="406.8" font-size="6.8" text-anchor="end" fill="#3c3c3c" letter-spacing="-0.1">2</text>
<line x1="323.5" y1="386.9" x2="325.5" y2="386.9" stroke="#a2a2a2" stroke-width="0.8" />
<text class="ss" x="320.6" y="389.9" font-size="6.8" text-anchor="end" fill="#3c3c3c" letter-spacing="-0.1">4</text>
<line x1="323.5" y1="370" x2="325.5" y2="370" stroke="#a2a2a2" stroke-width="0.8" />
<text class="ss" x="320.6" y="373" font-size="6.8" text-anchor="end" fill="#3c3c3c" letter-spacing="-0.1">6</text>
<line x1="323.5" y1="353.1" x2="325.5" y2="353.1" stroke="#a2a2a2" stroke-width="0.8" />
<text class="ss" x="320.6" y="356.1" font-size="6.8" text-anchor="end" fill="#3c3c3c" letter-spacing="-0.1">8</text>
<line x1="323.5" y1="336.2" x2="325.5" y2="336.2" stroke="#a2a2a2" stroke-width="0.8" />
<text class="ss" x="320.6" y="339.2" font-size="6.8" text-anchor="end" fill="#3c3c3c" letter-spacing="-0.1">10</text>
<line x1="323.5" y1="319.3" x2="325.5" y2="319.3" stroke="#a2a2a2" stroke-width="0.8" />
<text class="ss" x="320.6" y="322.3" font-size="6.8" text-anchor="end" fill="#3c3c3c" letter-spacing="-0.1">12</text>
<line x1="323.5" y1="302.4" x2="325.5" y2="302.4" stroke="#a2a2a2" stroke-width="0.8" />
<text class="ss" x="320.6" y="305.4" font-size="6.8" text-anchor="end" fill="#3c3c3c" letter-spacing="-0.1">14</text>
<line x1="323.5" y1="285.5" x2="325.5" y2="285.5" stroke="#a2a2a2" stroke-width="0.8" />
<text class="ss" x="320.6" y="288.5" font-size="6.8" text-anchor="end" fill="#3c3c3c" letter-spacing="-0.1">16</text>
<line x1="323.5" y1="268.6" x2="325.5" y2="268.6" stroke="#a2a2a2" stroke-width="0.8" />
<text class="ss" x="320.6" y="271.6" font-size="6.8" text-anchor="end" fill="#3c3c3c" letter-spacing="-0.1">18</text>
<line x1="323.5" y1="251.7" x2="325.5" y2="251.7" stroke="#a2a2a2" stroke-width="0.8" />
<text class="ss" x="320.6" y="254.7" font-size="6.8" text-anchor="end" fill="#3c3c3c" letter-spacing="-0.1">20</text>
<line x1="356.4" y1="420.7" x2="356.4" y2="418.7" stroke="#a2a2a2" stroke-width="0.8" />
<text class="ss" x="356.4" y="431" font-size="6.8" text-anchor="middle" fill="#3c3c3c" >380</text>
<line x1="396.8" y1="420.7" x2="396.8" y2="418.7" stroke="#a2a2a2" stroke-width="0.8" />
<text class="ss" x="396.8" y="431" font-size="6.8" text-anchor="middle" fill="#3c3c3c" >385</text>
<line x1="437.2" y1="420.7" x2="437.2" y2="418.7" stroke="#a2a2a2" stroke-width="0.8" />
<text class="ss" x="437.2" y="431" font-size="6.8" text-anchor="middle" fill="#3c3c3c" >390</text>
<line x1="477.6" y1="420.7" x2="477.6" y2="418.7" stroke="#a2a2a2" stroke-width="0.8" />
<text class="ss" x="477.6" y="431" font-size="6.8" text-anchor="middle" fill="#3c3c3c" >395</text>
<line x1="518" y1="420.7" x2="518" y2="418.7" stroke="#a2a2a2" stroke-width="0.8" />
<text class="ss" x="518" y="431" font-size="6.8" text-anchor="middle" fill="#3c3c3c" >400</text>
<polyline points="332,418.8 336,418.9 340,418.9 344,418.9 347.8,418.8 348.4,415.4 352.2,415.6 354.4,415.4 356.1,412.1 357.7,409.7 360.5,408.6 362.7,407.1 364.4,401 366.1,398.8 368.3,397.5 369.9,396.6 371.6,397.7 372.7,390.5 374.4,387.2 376.6,384.4 378.2,382.7 379.4,378.3 380.5,374.4 381.6,375 383.4,370 385.1,366.7 386.8,363.3 388.1,359.9 389,358.1 390.2,358.1 391.1,355.2 392.8,351.7 394.1,353 394.9,352.6 395.8,349.6 396.6,345.8 397.9,341.1 399.2,339 401.3,336.4 402.6,333.8 403.5,331.7 403.9,330 404.3,325 406,321.6 408.1,319 409,317.3 409.8,313 411.9,309.2 414.9,305.8 417.1,301.1 418.8,297.7 420.5,294.3 421.4,291.7 423.1,289.1 424,285.7 424.8,287.8 425.7,282.3 426.5,285.7 427.4,280.6 428.2,276.7 429.1,280.6 429.9,283.1 430.8,274.6 431.6,273.3 432.9,272.9 434.2,269.5 436.3,263.5 438,264.4 439.7,266.9 441.5,265.2 442.7,262.2 443.6,264.4 445.3,276.7 447.4,273.3 449.6,269.5 451.7,266.1 453,272.1 454.2,280.6 454.8,285.1 455.7,287.2 456.5,284.3 457.8,284.3 458.6,289.4 459.9,298.8 460.8,305.6 461.6,312.4 462.5,311.6 464.2,310.3 465.9,307.7 467.2,308.1 468,310.3 468.9,314.1 470.4,321.1 471.6,327.1 472.5,332.2 475,332.2 475.9,337.3 476.4,344.3 477.7,349.4 479.4,349.8 480.7,348.1 481.5,349.8 483.2,351.1 484.1,353.6 485.4,358.8 487.1,366.4 488.8,368.1 491.3,370.3 492.6,372.8 494.3,377.1 495.2,380 496.6,385.5 499,387.9 500.7,392.7 502.5,398.7 505.5,401.6 508.5,404.6 511.5,410 514.5,411.2 517.5,409.4 520.4,410.6 524,406.4 525.8,407.6 527,408.2" fill="none" stroke="#ff0000" stroke-width="1.55" stroke-linejoin="round" stroke-linecap="round" />
<polyline points="323.5,416.7 354.4,416.6 356.6,413.8 358.8,410.5 362.2,409 363.8,407.1 365.5,402.2 367.2,400.5 369.4,399 371,399.7 372.7,393.8 374.4,390.5 377.7,386.6 379.9,381.6 382.1,379.4 384.9,376.1 387.2,370 389.4,366.7 391.5,363.3 393.2,359.9 394.9,360.3 396.2,359 397.5,355.6 398.8,350.5 400.5,347.9 402.6,344.5 403.9,341.1 405.6,336 407.3,331.7 408.1,330 410.2,325 412.8,321.1 415.4,317.3 417.9,312.6 420.5,307.9 422.6,304.5 424.7,301.5 426.9,299 428.6,297.7 429.4,296 430.3,296.4 431.1,295.1 432.1,290.8 433.8,288.3 435.5,284 437.2,280.6 438.5,280.6 440.6,282.3 443.2,279.7 444,280.6 445.3,287.8 446.6,289.5 448.4,288.5 450.4,285.3 452.1,282.7 453.1,283.4 454,287.7 454.8,293.6 455.7,297.9 457.4,299.2 458.6,300.5 459.5,305.6 460.8,312.4 461.4,316 461.8,320.2 463.1,321.5 465.2,321.5 466.9,319.4 468.6,320.7 469.9,325.4 471.2,331.3 472.1,338.1 473.5,340.3 475,341 476,346 477.2,352.8 478.5,355.8 480.7,356.2 482.8,357.5 484.1,359.2 485.4,363 486.6,368.1 487.9,371.6 490,373.7 492.2,375.8 493.9,378 494.7,380 496,384.9 499,390.3 501.9,398.1 505.5,402.8 509.1,407 512.1,411.2 514.5,411.8 517.5,410.6 521,411.6 524,408.8 527,408.6 531.2,405.4 534,403.3 536.6,416.2 539.5,412.9 542.8,419.2" fill="none" stroke="#2626ff" stroke-width="1.4" stroke-linejoin="round" stroke-linecap="round" />
<polyline points="332.4,417.6 324.2,417.4 324.2,419.4 332.4,419.2" fill="none" stroke="#000" stroke-width="1.5" stroke-linejoin="round" stroke-linecap="round" />
<polyline points="527,408 533.4,400.9 535.7,415.8 538.8,412.2 542.3,418.9" fill="none" stroke="#000" stroke-width="1.35" stroke-linejoin="round" stroke-linecap="round" />
<rect x="467.3" y="256.5" width="69.5" height="43.8" fill="#fff" stroke="#a0a0a0" stroke-width="0.9"/>
<circle cx="479.2" cy="264.3" r="1.9" fill="#000"/>
<circle cx="479.2" cy="278.5" r="1.9" fill="#ff0000"/>
<line x1="469.4" y1="292.5" x2="489" y2="292.5" stroke="#2626ff" stroke-width="1.4" />
<text class="sf" x="491" y="266.8" font-size="10.5" fill="#111" textLength="37.2" lengthAdjust="spacingAndGlyphs">Nominal</text>
<text class="sf" x="491" y="280.7" font-size="10.5" fill="#111" textLength="21.6" lengthAdjust="spacingAndGlyphs">Fault</text>
<text class="sf" x="491" y="294.6" font-size="10.5" fill="#111" textLength="42.6" lengthAdjust="spacingAndGlyphs">Threshold</text>
<line x1="343.4" y1="310.1" x2="343.4" y2="340.7" stroke="#aaa" stroke-width="0.9" />
<line x1="343.4" y1="340.7" x2="385.9" y2="340.7" stroke="#b4b4b4" stroke-width="1.3" />
<text class="ss" x="342.6" y="312.4" font-size="5.3" text-anchor="end" fill="#444" >0.55</text>
<text class="ss" x="342.6" y="327.6" font-size="5.3" text-anchor="end" fill="#444" >0.5</text>
<text class="ss" x="342.6" y="342.9" font-size="5.3" text-anchor="end" fill="#444" >0.45</text>
<text class="ss" x="354.6" y="347.7" font-size="5.3" text-anchor="middle" fill="#444" >377.4</text>
<text class="ss" x="375.7" y="347.7" font-size="5.3" text-anchor="middle" fill="#444" >377.6</text>
<text class="sf" x="359.7" y="307.6" font-size="10.2" fill="#111" >first</text>
<line x1="343.4" y1="325.3" x2="385.9" y2="325.3" stroke="#2626ff" stroke-width="1.5" />
<circle cx="367.1" cy="310.4" r="0.85" fill="#ff0000"/>
<circle cx="365.7" cy="319.3" r="0.85" fill="#ff0000"/>
<circle cx="368.2" cy="319.3" r="0.85" fill="#ff0000"/>
<circle cx="364.8" cy="328.3" r="0.85" fill="#ff0000"/>
<circle cx="369" cy="328.3" r="0.85" fill="#ff0000"/>
<circle cx="363.9" cy="337" r="0.85" fill="#ff0000"/>
<circle cx="370.3" cy="337" r="0.85" fill="#ff0000"/>
<line x1="490.2" y1="310.4" x2="490.2" y2="340.6" stroke="#aaa" stroke-width="0.9" />
<line x1="490.2" y1="340.6" x2="532.5" y2="340.6" stroke="#b4b4b4" stroke-width="1.3" />
<text class="ss" x="489.4" y="312.4" font-size="5.3" text-anchor="end" fill="#444" >1</text>
<text class="ss" x="489.4" y="326.2" font-size="5.3" text-anchor="end" fill="#444" >0.8</text>
<text class="ss" x="489.4" y="339.9" font-size="5.3" text-anchor="end" fill="#444" >0.6</text>
<text class="ss" x="490.2" y="347.6" font-size="5.3" text-anchor="middle" fill="#444" >402.6</text>
<text class="ss" x="511.4" y="347.6" font-size="5.3" text-anchor="middle" fill="#444" >402.7</text>
<text class="ss" x="532.5" y="347.6" font-size="5.3" text-anchor="middle" fill="#444" >402.8</text>
<text class="sf" x="508.2" y="311.6" font-size="10.2" fill="#111" >last</text>
<path d="M490.2,325.7 C496,322.8 501,321.2 506,321.2 C513,321.2 521,324.6 532.5,328.9" fill="none" stroke="#2626ff" stroke-width="1.5"/>
<circle cx="490.5" cy="310.5" r="0.72" fill="#000"/>
<circle cx="492.4" cy="310.4" r="0.72" fill="#000"/>
<circle cx="494.3" cy="310" r="0.72" fill="#000"/>
<circle cx="496.2" cy="309.7" r="0.72" fill="#000"/>
<circle cx="498.1" cy="310.5" r="0.72" fill="#000"/>
<circle cx="500" cy="311.75" r="0.72" fill="#000"/>
<circle cx="501.9" cy="313.01" r="0.72" fill="#000"/>
<circle cx="503.8" cy="314.26" r="0.72" fill="#000"/>
<circle cx="505.7" cy="315.52" r="0.72" fill="#000"/>
<circle cx="507.6" cy="316.77" r="0.72" fill="#000"/>
<circle cx="509.5" cy="318.02" r="0.72" fill="#000"/>
<circle cx="511.4" cy="319.28" r="0.72" fill="#000"/>
<circle cx="513.3" cy="320.53" r="0.72" fill="#000"/>
<circle cx="515.2" cy="321.79" r="0.72" fill="#000"/>
<circle cx="517.1" cy="323.04" r="0.72" fill="#000"/>
<circle cx="519" cy="324.29" r="0.72" fill="#000"/>
<circle cx="520.9" cy="325.55" r="0.72" fill="#000"/>
<circle cx="522.8" cy="326.8" r="0.72" fill="#000"/>
<circle cx="524.7" cy="328.06" r="0.72" fill="#000"/>
<circle cx="526.6" cy="329.31" r="0.72" fill="#000"/>
<circle cx="528.5" cy="330.56" r="0.72" fill="#000"/>
<circle cx="530.4" cy="331.82" r="0.72" fill="#000"/>
<circle cx="532.3" cy="333.07" r="0.72" fill="#000"/>
<line x1="335.6" y1="417.1" x2="355.77" y2="346.27" stroke="#4a98e0" stroke-width="1.0" />
<polygon points="356.7,343 357.5,346.76 354.04,345.78" fill="#1f72d8"/>
<line x1="533.6" y1="400.8" x2="521.49" y2="350.11" stroke="#4a98e0" stroke-width="1.0" />
<polygon points="520.7,346.8 523.24,349.69 519.74,350.53" fill="#1f72d8"/>
<text class="sf" x="306.9" y="336.3" font-size="10.4" text-anchor="middle" fill="#111" transform="rotate(-90 306.9 336.3)">Test Statistic</text>
<text class="sf" x="433" y="442.2" font-size="10.3" text-anchor="middle" fill="#111" >Time(s)</text>
<text x="426.3" y="464.5" class="sf" font-size="9.8" text-anchor="middle" fill="#111">(<tspan font-weight="bold">d</tspan>)</text>
</svg>
</body></html>
